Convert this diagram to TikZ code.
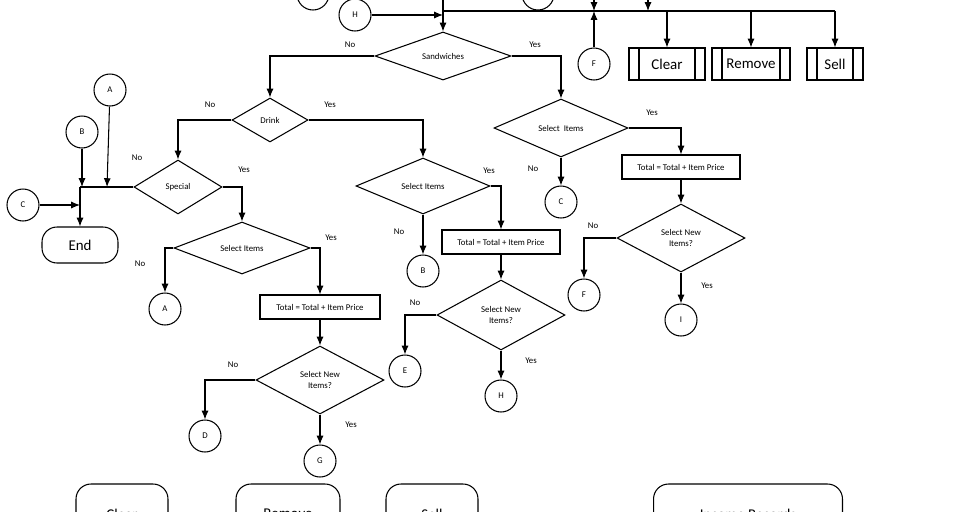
\documentclass[tikz,border=0pt]{standalone}
\usepackage{fontspec}
\setmainfont{Carlito}
\usetikzlibrary{shapes.geometric,arrows.meta}
\tikzset{
  arr/.style={-{Latex[length=5pt,width=4pt]}},
  con/.style={draw,circle,minimum size=0.64cm,inner sep=0pt,font=\fontsize{5}{6}\selectfont},
  dec/.style={draw,diamond,inner sep=0pt,align=center,font=\fontsize{5}{6}\selectfont},
  calc/.style={draw,rectangle,minimum height=0.48cm,inner sep=1pt,font=\fontsize{5}{6}\selectfont},
  lbl/.style={font=\fontsize{5}{6}\selectfont},
  sub/.style={draw,rectangle,minimum height=0.64cm,font=\fontsize{8.5}{10}\selectfont,
    path picture={\draw ([xshift=0.2cm]path picture bounding box.south west) -- ([xshift=0.2cm]path picture bounding box.north west);
                  \draw ([xshift=-0.2cm]path picture bounding box.south east) -- ([xshift=-0.2cm]path picture bounding box.north east);}},
  term/.style={draw,rectangle,rounded corners=0.3cm,minimum height=0.72cm,font=\fontsize{8.5}{10}\selectfont},
}
\begin{document}
\begin{tikzpicture}[x=0.02cm,y=-0.02cm,line width=0.6pt]
\clip (0,0) rectangle (973,511);
\useasboundingbox (0,0) rectangle (973,511);
% top bar
\coordinate (bar) at (443,11);
\coordinate (barF) at (594,11);
\coordinate (barE) at (835,11);
\draw (bar) -- (barE);
\node[con] (top1) at (313,-6) {};
\node[con] (top2) at (538,-6) {};
\draw[arr] (594,-2) -- (barF);
\draw[arr] (648,-2) -- (648,11);
\node[con] (H0) at (355,15) {H};
\draw[arr] (H0) -- (443,15);
\node[con] (F0) at (594,64) {F};
\draw[arr] (F0) -- (barF);
\node[sub,minimum width=1.52cm] (clear) at (667,64) {Clear};
\node[sub,minimum width=1.56cm] (remove) at (751,64) {Remove};
\node[sub,minimum width=1.12cm] (sell) at (835,64) {Sell};
\draw[arr] (667,11) -- (clear);
\draw[arr] (751,11) -- (remove);
\draw[arr] (barE) -- (sell);
% sandwiches
\node[dec,minimum width=2.72cm,minimum height=0.96cm] (sand) at (443,56) {Sandwiches};
\draw[arr] (443,-2) -- (sand);
\node[lbl] at (350,45) {No};
\node[lbl] at (535,45) {Yes};
% drink
\node[dec,minimum width=1.52cm,minimum height=0.88cm] (drink) at (270,120) {Drink};
\draw[arr] (sand.west) -| (drink.north);
\node[lbl] at (210,105) {No};
\node[lbl] at (330,105) {Yes};
% special
\node[dec,minimum width=1.76cm,minimum height=1.08cm] (special) at (178,187) {Special};
\draw[arr] (drink.west) -| (special.north);
\node[lbl] at (137,158) {No};
\node[lbl] at (244,170) {Yes};
\node[term,minimum width=1.52cm] (end) at (80,245) {End};
\coordinate (join) at (80,187);
\draw (special.west) -- (join);
\draw[arr] (join) -- (end);
\node[con] (A1) at (110,90) {A};
\node[con] (B1) at (82,132) {B};
\node[con] (C1) at (23,205) {C};
\draw[arr] (A1) -- (107,187);
\draw[arr] (B1) -- (82,187);
\draw[arr] (C1) -- (80,205);
% left branch
\node[dec,minimum width=2.72cm,minimum height=1.04cm] (selL) at (242,248) {Select Items};
\draw[arr] (special.east) -| (selL.north);
\node[con] (A2) at (165,309) {A};
\draw[arr] (selL.west) -| (A2.north);
\node[lbl] at (140,264) {No};
\node[lbl] at (331,238) {Yes};
\node[calc,minimum width=2.4cm] (totL) at (320,307) {Total = Total + Item Price};
\draw[arr] (selL.east) -| (totL.north);
\node[dec,minimum width=2.56cm,minimum height=1.36cm] (newL) at (320,380) {Select New\\Items?};
\draw[arr] (totL) -- (newL);
\node[con] (D1) at (205,436) {D};
\node[con] (G1) at (320,461) {G};
\draw[arr] (newL.west) -| (D1.north);
\draw[arr] (newL) -- (G1);
\node[lbl] at (233,365) {No};
\node[lbl] at (351,425) {Yes};
% middle branch
\node[dec,minimum width=2.68cm,minimum height=1.12cm] (selM) at (423,186) {Select Items};
\draw[arr] (drink.east) -| (selM.north);
\node[con] (B2) at (423,271) {B};
\draw[arr] (selM) -- (B2);
\node[lbl] at (399,232) {No};
\node[lbl] at (489,171) {Yes};
\node[calc,minimum width=2.36cm] (totM) at (501,242) {Total = Total + Item Price};
\draw[arr] (selM.east) -| (totM.north);
\node[dec,minimum width=2.56cm,minimum height=1.4cm] (newM) at (501,315) {Select New\\Items?};
\draw[arr] (totM) -- (newM);
\node[con] (E1) at (405,371) {E};
\node[con] (H1) at (501,396) {H};
\draw[arr] (newM.west) -| (E1.north);
\draw[arr] (newM) -- (H1);
\node[lbl] at (415,303) {No};
\node[lbl] at (531,361) {Yes};
% right branch
\node[dec,minimum width=2.68cm,minimum height=1.16cm] (selR) at (561,128) {Select\ \ Items};
\draw[arr] (sand.east) -| (selR.north);
\node[con] (C2) at (561,202) {C};
\draw[arr] (selR) -- (C2);
\node[lbl] at (533,169) {No};
\node[lbl] at (652,113) {Yes};
\node[calc,minimum width=2.36cm] (totR) at (681,167) {Total = Total + Item Price};
\draw[arr] (selR.east) -| (totR.north);
\node[dec,minimum width=2.56cm,minimum height=1.36cm] (newR) at (681,238) {Select New\\Items?};
\draw[arr] (totR) -- (newR);
\node[con] (F1) at (584,295) {F};
\node[con] (I1) at (681,320) {I};
\draw[arr] (newR.west) -| (F1.north);
\draw[arr] (newR) -- (I1);
\node[lbl] at (593,226) {No};
\node[lbl] at (707,286) {Yes};
% bottom row
\node[term,minimum width=1.84cm,minimum height=1.2cm] (clear2) at (122,514) {Clear};
\node[term,minimum width=2.08cm,minimum height=1.2cm] (remove2) at (288,514) {Remove};
\node[term,minimum width=1.84cm,minimum height=1.2cm] (sell2) at (432,514) {Sell};
\node[term,minimum width=3.78cm,minimum height=1.2cm] (income) at (748,514) {Income Records};
\end{tikzpicture}
\end{document}
